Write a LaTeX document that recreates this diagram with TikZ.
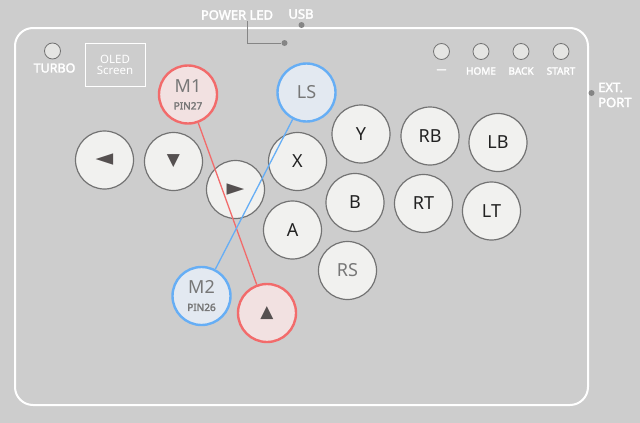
\documentclass[tikz,border=0pt]{standalone}
\usepackage{fontspec}
\setmainfont{Noto Sans}[BoldFont={Noto Sans},BoldFeatures={FakeBold=2.5}]
\newfontfamily\symfont{DejaVu Sans}
\definecolor{bg}{HTML}{CDCDCD}
\definecolor{btnfill}{HTML}{F1F1EF}
\definecolor{btnline}{HTML}{737373}
\definecolor{redline}{HTML}{F26B6B}
\definecolor{redfill}{HTML}{F2E1E1}
\definecolor{blueline}{HTML}{66AEF5}
\definecolor{bluefill}{HTML}{E3E9F1}
\definecolor{dim}{HTML}{777777}
\definecolor{ink}{HTML}{222222}
\definecolor{tri}{HTML}{555050}
\definecolor{dotgray}{HTML}{858585}
\begin{document}
\begin{tikzpicture}
  [x=1pt,y=-1pt,
   btn/.style={circle,draw=btnline,fill=btnfill,line width=1.2pt,minimum size=58pt,inner sep=0pt,
     text=ink,font=\fontsize{18}{18}\selectfont},
   redbtn/.style={btn,draw=redline,fill=redfill,line width=2.4pt,text=dim},
   bluebtn/.style={btn,draw=blueline,fill=bluefill,line width=2.4pt,text=dim},
   symtext/.style={text=tri,font=\symfont\fontsize{17}{17}\selectfont},
   sidesym/.style={text=tri,font=\symfont\fontsize{23}{23}\selectfont},
   minibtn/.style={circle,draw=btnline,fill=btnfill!95!black,line width=0.8pt,minimum size=16pt,inner sep=0pt},
   lbl/.style={text=white,font=\bfseries\fontsize{10}{10}\selectfont,inner sep=0pt},
   dot/.style={circle,fill=dotgray,minimum size=6pt,inner sep=0pt}]
  \useasboundingbox[fill=bg] (0,0) rectangle (640,423);
  % case outline
  \draw[white,line width=2pt,rounded corners=18pt] (15,28) rectangle (588,405);
  % top edge: leds and ports
  \node[lbl,font=\bfseries\fontsize{13}{13}\selectfont] (pled) at (237,15) {POWER LED};
  \node[lbl,font=\bfseries\fontsize{13}{13}\selectfont] (usb) at (301,14) {USB};
  \node[dot] (usbdot) at (301.5,25) {};
  \node[dot] (leddot) at (284.5,43) {};
  \coordinate (ledtop) at (247.5,21);
  \draw[dotgray,line width=1pt] (ledtop) |- (leddot);
  \node[dot] (extdot) at (591.5,93) {};
  \node[lbl,anchor=west,align=left,font=\bfseries\fontsize{13}{15}\selectfont] (ext) at (598,95) {EXT.\\PORT};
  % turbo and screen
  \node[minibtn] (turbo) at (52.5,51) {};
  \node[lbl,font=\bfseries\fontsize{12.5}{12.5}\selectfont] (turbolbl) at (54.5,68) {TURBO};
  \node[draw=white,line width=1pt,minimum width=60pt,minimum height=43pt,inner sep=0pt,align=center,
    text=white,font=\fontsize{11.5}{11}\selectfont] (oled) at (115,64.5) {OLED\\Screen};
  % menu buttons
  \node[minibtn] (minus) at (441.5,51.5) {};
  \node[minibtn] (home) at (481,51.5) {};
  \node[minibtn] (back) at (521,51.5) {};
  \node[minibtn] (start) at (561,51.5) {};
  \node[lbl] (minuslbl) at (441.5,71) {—};
  \node[lbl] (homelbl) at (481,71) {HOME};
  \node[lbl] (backlbl) at (521,71) {BACK};
  \node[lbl] (startlbl) at (561,71) {START};
  % directions
  \node[btn,sidesym] (left) at (104.5,160) {◄};
  \node[btn,symtext] (down) at (173.5,161.5) {▼};
  \node[btn,sidesym] (right) at (235.5,189.5) {►};
  \node[redbtn,symtext] (up) at (267,313) {▲};
  % modifiers
  \node[redbtn,align=center] (m1) at (188,94.5) {M1\\[-1pt]{\bfseries\fontsize{10}{10}\selectfont PIN27}};
  \node[bluebtn,align=center] (m2) at (201.5,296) {M2\\[-1pt]{\bfseries\fontsize{10}{10}\selectfont PIN26}};
  \node[bluebtn] (ls) at (306.5,92.5) {LS};
  % face buttons
  \node[btn] (x) at (297.5,161.5) {X};
  \node[btn] (a) at (292.5,230) {A};
  \node[btn] (y) at (361,134) {Y};
  \node[btn] (b) at (355,202.5) {B};
  \node[btn] (rb) at (430,136) {RB};
  \node[btn] (rt) at (423.5,203.5) {RT};
  \node[btn] (lb) at (498,142.5) {LB};
  \node[btn] (lt) at (491.5,211) {LT};
  \node[btn,text=dim] (rs) at (347.5,270.5) {RS};
  \foreach \from/\to/\col in {m1/up/redline,ls/m2/blueline}
    \draw[\col,line width=1.3pt] (\from) -- (\to);
\end{tikzpicture}
\end{document}
